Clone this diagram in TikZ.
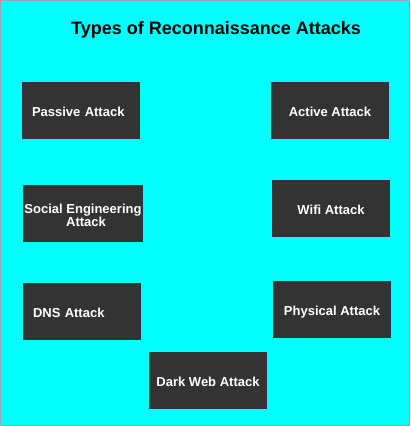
\documentclass[tikz,border=0pt]{standalone}
\usepackage{fontspec}
\setmainfont{Liberation Sans}
\definecolor{bgcyan}{RGB}{0,255,255}
\definecolor{boxgray}{RGB}{51,51,51}
\definecolor{framegray}{RGB}{168,160,168}
\tikzset{
  attack/.style={draw=none,fill=boxgray,text=white,font=\bfseries\fontsize{13}{13}\selectfont,
    minimum width=118pt,minimum height=57pt,inner xsep=1pt,inner ysep=0pt,
    text height=12.4pt,text depth=0pt,align=center},
  attackleft/.style={attack,inner xsep=10pt,text width=98pt,align=left}
}

\begin{document}
\begin{tikzpicture}[x=1pt,y=-1pt]
  \useasboundingbox (0,0) rectangle (410,426);
  \fill[bgcyan] (0,0) rectangle (410,426);
  \draw[framegray,line width=1pt] (0.5,0.5) rectangle (409.5,425.5);
  \node[anchor=base,font=\bfseries\fontsize{18}{18}\selectfont] (title) at (216,34) {Types of Reconnaissance Attacks};
  \node[attackleft] (passive) at (81,110.5) {Passive Attack};
  \node[attack] (active) at (330,110.5) {Active Attack};
  \node[attack,text height=26pt] (social) at (83,213.5) {Social Engineering\\\hspace*{6pt}Attack};
  \node[attack] (wifi) at (331,208.5) {Wifi Attack};
  \node[attackleft] (dns) at (82,311.5) {DNS Attack};
  \node[attack] (physical) at (332,309.5) {Physical Attack};
  \node[attack] (darkweb) at (208,380) {Dark Web Attack};
\end{tikzpicture}
\end{document}
